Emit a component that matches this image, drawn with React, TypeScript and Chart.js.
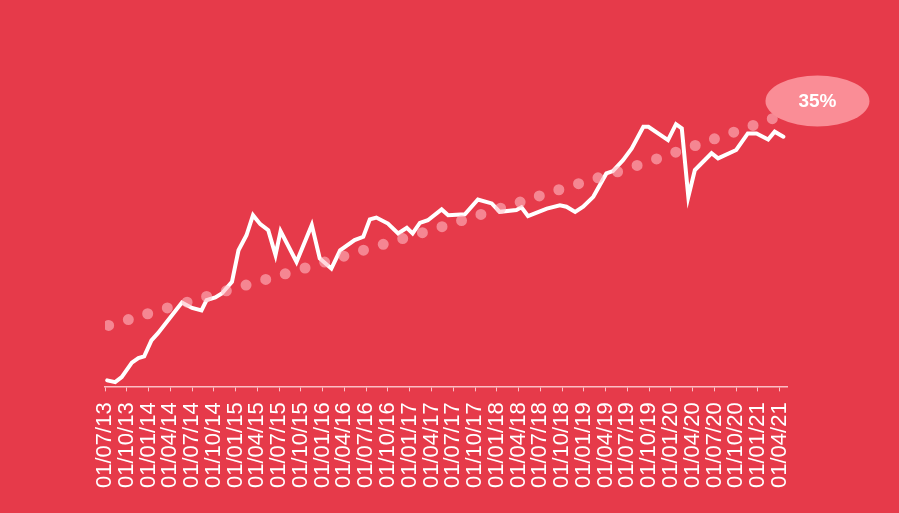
import React, { useEffect, useRef } from "react";
import { Chart, registerables } from "chart.js";

Chart.register(...registerables);

// quarterly axis labels (one every 3 months, starting 01/07/13)
const tickLabels = [
	"01/07/13", "01/10/13", "01/01/14", "01/04/14", "01/07/14", "01/10/14",
	"01/01/15", "01/04/15", "01/07/15", "01/10/15", "01/01/16", "01/04/16",
	"01/07/16", "01/10/16", "01/01/17", "01/04/17", "01/07/17", "01/10/17",
	"01/01/18", "01/04/18", "01/07/18", "01/10/18", "01/01/19", "01/04/19",
	"01/07/19", "01/10/19", "01/01/20", "01/04/20", "01/07/20", "01/10/20",
	"01/01/21", "01/04/21",
];

// months since 01/07/13 and the index value at that time
const lineMonths = [
	0.3, 1.4, 2.3, 3.7, 4.6, 5.4, 6.4, 7.3, 10.6, 12.0, 13.3, 14.0, 15.2, 16.1,
	17.5, 18.4, 19.5, 20.4, 21.4, 22.5, 23.5, 24.2, 26.4, 28.5, 29.6, 31.2, 32.4,
	34.4, 35.6, 36.5, 37.4, 39.0, 40.4, 41.6, 42.4, 43.4, 44.5, 46.4, 47.3, 49.6,
	51.4, 53.3, 54.4, 56.7, 57.4, 58.3, 60.9, 62.7, 63.6, 64.8, 65.9, 67.3, 69.1,
	70.0, 71.4, 72.6, 74.2, 74.9, 77.6, 78.7, 79.5, 80.4, 81.3, 83.6, 84.5, 87.0,
	88.6, 89.8, 91.4, 92.3, 93.5,
];
const lineValues = [
	2.0, 1.4, 3.1, 7.9, 9.4, 10.0, 15.3, 17.7, 27.9, 26.1, 25.3, 28.7, 29.6, 30.9,
	34.8, 45.3, 50.3, 57.0, 54.0, 52.0, 43.7, 51.7, 41.4, 53.7, 42.6, 39.2, 45.3,
	48.7, 49.8, 55.6, 56.2, 54.2, 50.9, 52.8, 50.9, 54.4, 55.3, 58.9, 57.0, 57.3,
	62.2, 60.9, 58.1, 58.7, 59.6, 56.7, 59.2, 60.3, 59.8, 58.1, 59.8, 63.1, 70.9,
	71.7, 75.3, 79.2, 86.4, 86.4, 82.0, 87.3, 85.9, 63.1, 72.0, 77.6, 75.9, 78.7,
	84.2, 84.2, 82.2, 84.8, 83.1,
];

// dotted trend
const trendMonths = [0.5, 9, 18, 27, 36, 45, 54, 63, 72, 81, 92.2];
const trendValues = [20.3, 26.4, 32.7, 39.0, 45.6, 52.1, 58.9, 65.8, 72.5, 79.9, 89.3];

const bubbleLabel = "35%";
const bubbleMonth = 98.2;
const bubbleValue = 95;

const BG = "#E63A4A";
const AXIS = "rgba(255, 214, 218, 0.85)";

const bubblePlugin = {
	id: "bubble",
	afterDatasetsDraw(chart: any) {
		const { ctx, scales } = chart;
		const cx = scales.x.getPixelForValue(bubbleMonth);
		const cy = scales.y.getPixelForValue(bubbleValue);
		ctx.save();
		ctx.fillStyle = "#FA8D96";
		ctx.beginPath();
		ctx.ellipse(cx, cy, 52, 25.5, 0, 0, Math.PI * 2);
		ctx.fill();
		ctx.fillStyle = "#ffffff";
		ctx.font = "bold 19px 'Liberation Sans', Arial, sans-serif";
		ctx.textAlign = "center";
		ctx.textBaseline = "middle";
		ctx.fillText(bubbleLabel, cx, cy + 1);
		ctx.restore();
	},
};

const TrendChart: React.FC = () => {
	const chartRef = useRef<HTMLCanvasElement>(null);

	useEffect(() => {
		if (!chartRef.current) return;
		const chartConfig = {
			type: "line",
			data: {
				datasets: [
					{
						label: "Index",
						data: lineMonths.map((m, i) => ({ x: m, y: lineValues[i] })),
						borderColor: "#ffffff",
						borderWidth: 4,
						borderCapStyle: "round",
						pointRadius: 0,
						tension: 0,
						order: 2,
					},
					{
						label: "Trend",
						data: trendMonths.map((m, i) => ({ x: m, y: trendValues[i] })),
						borderColor: "rgba(255, 190, 198, 0.58)",
						borderWidth: 11,
						borderCapStyle: "round",
						borderDash: [0, 20.45],
						pointRadius: 0,
						tension: 0.4,
						order: 1,
					},
				],
			},
			options: {
				animation: false,
				responsive: true,
				maintainAspectRatio: false,
				layout: {
					padding: { left: 105, right: 112, top: 86, bottom: 14 },
				},
				plugins: {
					legend: { display: false },
					tooltip: { enabled: false },
				},
				scales: {
					x: {
						type: "linear",
						min: 0,
						max: 94,
						grid: {
							display: true,
							drawOnChartArea: false,
							drawTicks: true,
							tickLength: 5,
							color: AXIS,
						},
						border: { display: true, color: AXIS, width: 1.5 },
						ticks: {
							stepSize: 3,
							includeBounds: false,
							autoSkip: false,
							maxRotation: 90,
							minRotation: 90,
							padding: 11,
							color: "#ffffff",
							font: { family: "'Liberation Sans', Arial, sans-serif", size: 22 },
							callback: (value: number) =>
								value % 3 === 0 ? tickLabels[value / 3] ?? "" : "",
						},
					},
					y: {
						display: false,
						min: 0,
						max: 100,
					},
				},
			},
			plugins: [bubblePlugin],
		};

		const chartInstance = new Chart(chartRef.current, chartConfig as any);
		return () => {
			chartInstance.destroy();
		};
	}, []);

	return <canvas ref={chartRef} />;
};

export default function App() {
	return (
		<div
			style={{
				position: "fixed",
				left: 0,
				top: 0,
				width: 899,
				height: 513,
				background: BG,
			}}
		>
			<TrendChart />
		</div>
	);
}
